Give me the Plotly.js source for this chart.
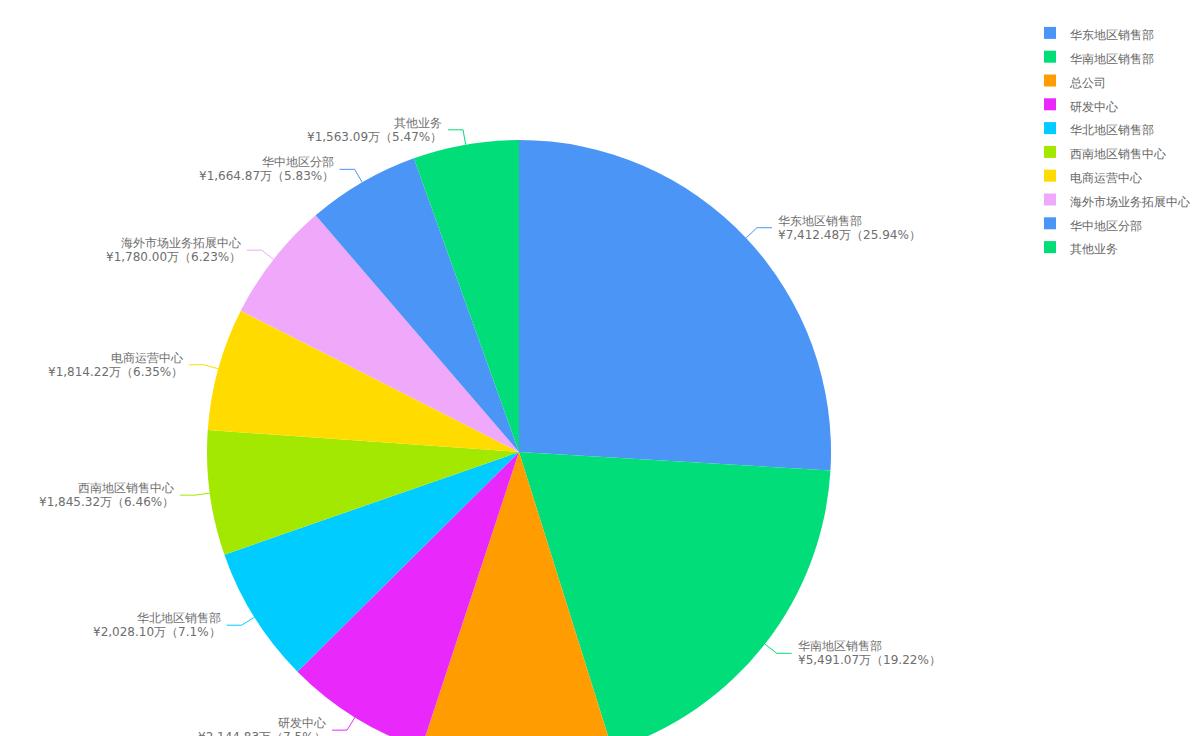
<!DOCTYPE html>
<html>
<head>
<meta charset="utf-8">
<script src="https://cdn.plot.ly/plotly-3.0.1.min.js"></script>
<style>
  html, body { margin: 0; padding: 0; overflow: hidden; background: #fff; }
  #graph { width: 1195px; height: 764px; }
</style>
</head>
<body>
<div id="graph"></div>
<script>
// slice data (amounts in 万元)
const names = ['华东地区销售部', '华南地区销售部', '总公司', '研发中心', '华北地区销售部',
               '西南地区销售中心', '电商运营中心', '海外市场业务拓展中心', '华中地区分部', '其他业务'];
const values = [7412.48, 5491.07, 2828.00, 2144.83, 2028.10, 1845.32, 1814.22, 1780.00, 1664.87, 1563.09];
const percents = ['25.94', '19.22', '9.9', '7.5', '7.1', '6.46', '6.35', '6.23', '5.83', '5.47'];
const colors = ['#4a95f5', '#00dd79', '#ff9c00', '#e929fb', '#00ccff',
                '#a3e800', '#ffdb00', '#efa8fa', '#4a95f5', '#00dd79'];

// page geometry (px)
const W = 1195, H = 764;
const M = {l: 207, r: 364, t: 140, b: 0};
const plotW = W - M.l - M.r, plotH = H - M.t - M.b;
const cx = M.l + plotW / 2, cy = M.t + plotH / 2, R = Math.min(plotW, plotH) / 2;

function px2x(px) { return (px - M.l) / plotW; }
function px2y(py) { return 1 - (py - M.t) / plotH; }

function fmtMoney(v) {
    return '¥' + v.toLocaleString('en-US', {minimumFractionDigits: 2, maximumFractionDigits: 2});
}

const total = values.reduce((a, b) => a + b, 0);
const shapes = [];
const annotations = [];
const labelFont = {family: 'DejaVu Sans, sans-serif', size: 12, color: '#6e6e6e'};

let cum = 0;
values.forEach(function(v, i) {
    const mid = (cum + v / 2) / total * 2 * Math.PI; // clockwise from 12 o'clock
    cum += v;
    const s = Math.sin(mid), c = Math.cos(mid);
    const x0 = cx + R * s, y0 = cy - R * c;
    const x1 = cx + (R + 15) * s, y1 = cy - (R + 15) * c;
    const right = s >= 0;
    const x2 = x1 + (right ? 15 : -15);

    // leader line: radial piece then a short horizontal piece
    shapes.push({
        type: 'path', xref: 'paper', yref: 'paper', layer: 'above',
        path: 'M' + px2x(x0) + ',' + px2y(y0) + ' L' + px2x(x1) + ',' + px2y(y1) + ' L' + px2x(x2) + ',' + px2y(y1),
        line: {color: colors[i], width: 1}
    });

    const tx = px2x(x2 + (right ? 4 : -4));
    annotations.push({
        xref: 'paper', yref: 'paper', x: tx, y: px2y(y1 - 7),
        xanchor: right ? 'left' : 'right', yanchor: 'middle',
        text: names[i], showarrow: false, font: labelFont
    });
    annotations.push({
        xref: 'paper', yref: 'paper', x: tx, y: px2y(y1 + 7),
        xanchor: right ? 'left' : 'right', yanchor: 'middle',
        text: fmtMoney(v) + '万（' + percents[i] + '%）', showarrow: false, font: labelFont
    });
});

var trace = {
    type: 'pie',
    labels: names.map(n => '<span style="font-size:12px">' + n + '</span>'),
    values: values,
    sort: false,
    direction: 'clockwise',
    rotation: 0,
    textinfo: 'none',
    hoverinfo: 'percent+value',
    marker: {colors: colors, line: {color: '#ffffff', width: 0}}
};

const layout = {
    width: W,
    height: H,
    margin: {l: M.l, r: M.r, t: M.t, b: M.b, autoexpand: false},
    paper_bgcolor: '#fff',
    showlegend: true,
    legend: {
        x: px2x(1030), y: px2y(16), xanchor: 'left', yanchor: 'top',
        font: {family: 'DejaVu Sans, sans-serif', size: 16, color: '#666'},
        bgcolor: 'rgba(0,0,0,0)',
        itemwidth: 30
    },
    shapes: shapes,
    annotations: annotations
};

Plotly.newPlot('graph', [trace], layout, {displayModeBar: false, staticPlot: true});
</script>
</body>
</html>
